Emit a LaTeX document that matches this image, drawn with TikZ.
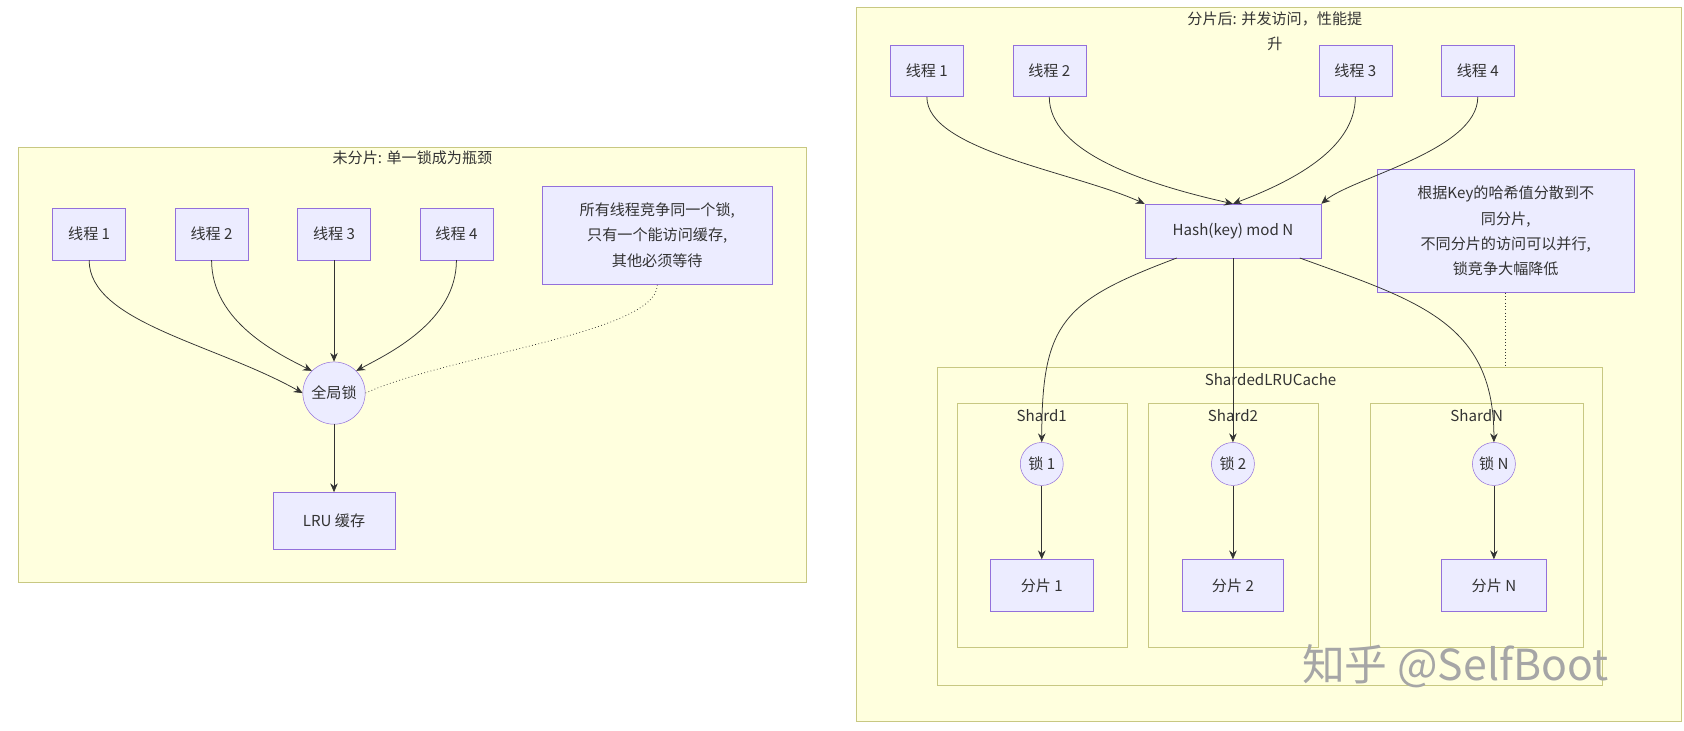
\documentclass[tikz,border=0pt]{standalone}
\usepackage{fontspec}
\setmainfont{Noto Sans CJK SC}
\usetikzlibrary{positioning,arrows.meta}
\definecolor{grpfill}{HTML}{FFFFDE}
\definecolor{grpline}{HTML}{C8C882}
\definecolor{boxfill}{HTML}{ECECFF}
\definecolor{boxline}{HTML}{9370DB}
\definecolor{edge}{HTML}{333333}
\tikzset{
  group/.style={draw=grpline, fill=grpfill, line width=0.6pt},
  grptitle/.style={font=\fontsize{12}{20}\selectfont, text=edge, align=center},
  proc/.style={rectangle, draw=boxline, fill=boxfill, font=\fontsize{12}{20}\selectfont, text=edge, align=center, inner sep=0pt},
  lock/.style={circle, draw=boxline, fill=boxfill, font=\fontsize{12}{14}\selectfont, text=edge, inner sep=0pt},
  flow/.style={draw=edge, line width=0.6pt, -{Stealth[length=7pt,width=6pt]}},
  hint/.style={draw=edge, line width=0.6pt, dotted}
}
\begin{document}
\begin{tikzpicture}[x=0.03cm, y=-0.03cm]
		\useasboundingbox (0,0) rectangle (1568,680);
		% left: one global lock
		\draw[group] (17,137) rectangle (751,542);
		\node[grptitle] (LTITLE) at (384,147) {未分片: 单一锁成为瓶颈};
		\node[proc, minimum width=68*0.03cm, minimum height=48*0.03cm] (LT1) at (83,218) {线程 1};
		\node[proc, minimum width=68*0.03cm, minimum height=48*0.03cm] (LT2) at (197,218) {线程 2};
		\node[proc, minimum width=68*0.03cm, minimum height=48*0.03cm] (LT3) at (311,218) {线程 3};
		\node[proc, minimum width=68*0.03cm, minimum height=48*0.03cm] (LT4) at (425,218) {线程 4};
		\node[proc, minimum width=215*0.03cm, minimum height=92*0.03cm] (LNOTE) at (612,219) {所有线程竞争同一个锁,\\只有一个能访问缓存,\\其他必须等待};
		\node[lock, minimum size=58*0.03cm] (GLOCK) at (311,366) {全局锁};
		\node[proc, minimum width=114*0.03cm, minimum height=53*0.03cm] (LRU) at (311,485) {LRU 缓存};
		\draw[flow] (LT1.south) .. controls (83,300) and (200,320) .. (GLOCK.west);
		\draw[flow] (LT2.south) .. controls (197,300) and (260,330) .. (GLOCK.north west);
		\draw[flow] (LT3) -- (GLOCK);
		\draw[flow] (LT4.south) .. controls (425,300) and (360,330) .. (GLOCK.north east);
		\draw[hint] (LNOTE.south) .. controls (612,310) and (420,330) .. (GLOCK.east);
		\draw[flow] (GLOCK) -- (LRU);
		% right: sharded locks
		\draw[group] (797,7) rectangle (1566,672);
		\node[grptitle] (RTITLE) at (1187,29) {分片后: 并发访问，性能提\\升};
		\node[proc, minimum width=68*0.03cm, minimum height=48*0.03cm] (RT1) at (863,66) {线程 1};
		\node[proc, minimum width=68*0.03cm, minimum height=48*0.03cm] (RT2) at (977,66) {线程 2};
		\node[proc, minimum width=68*0.03cm, minimum height=48*0.03cm] (RT3) at (1262,66) {线程 3};
		\node[proc, minimum width=68*0.03cm, minimum height=48*0.03cm] (RT4) at (1376,66) {线程 4};
		\node[proc, minimum width=164*0.03cm, minimum height=50*0.03cm] (HASH) at (1148,215) {Hash(key) mod N};
		\node[proc, minimum width=240*0.03cm, minimum height=115*0.03cm] (RNOTE) at (1402,215) {根据Key的哈希值分散到不\\同分片,\\不同分片的访问可以并行,\\锁竞争大幅降低};
		\draw[group] (873,342) rectangle (1492,638);
		\node[grptitle] (CTITLE) at (1183,353) {ShardedLRUCache};
		\draw[group] (891,376) rectangle (1050,603);
		\draw[group] (1069,376) rectangle (1228,603);
		\draw[group] (1276,376) rectangle (1474,603);
		\node[grptitle] (S1TITLE) at (970,387) {Shard1};
		\node[grptitle] (S2TITLE) at (1148,387) {Shard2};
		\node[grptitle] (SNTITLE) at (1375,387) {ShardN};
		\node[lock, minimum size=40*0.03cm] (LOCK1) at (970,432) {锁 1};
		\node[lock, minimum size=40*0.03cm] (LOCK2) at (1148,432) {锁 2};
		\node[lock, minimum size=40*0.03cm] (LOCKN) at (1391,432) {锁 N};
		\node[proc, minimum width=96*0.03cm, minimum height=48*0.03cm] (PART1) at (970,545) {分片 1};
		\node[proc, minimum width=94*0.03cm, minimum height=48*0.03cm] (PART2) at (1148,545) {分片 2};
		\node[proc, minimum width=98*0.03cm, minimum height=48*0.03cm] (PARTN) at (1391,545) {分片 N};
		\draw[flow] (RT1.south) .. controls (863,140) and (1000,160) .. (HASH.north west);
		\draw[flow] (RT2.south) .. controls (977,140) and (1060,170) .. (HASH.north);
		\draw[flow] (RT3.south) .. controls (1262,140) and (1200,170) .. (HASH.north);
		\draw[flow] (RT4.south) .. controls (1376,140) and (1260,165) .. (HASH.north east);
		\draw[hint] (RNOTE.south) -- (1402,342);
		\draw[flow] (HASH.south west) ++(30,0) .. controls (990,280) and (970,300) .. (LOCK1.north);
		\draw[flow] (HASH) -- (LOCK2);
		\draw[flow] (HASH.south east) ++(-20,0) .. controls (1320,280) and (1391,300) .. (LOCKN.north);
		\draw[flow] (LOCK1) -- (PART1);
		\draw[flow] (LOCK2) -- (PART2);
		\draw[flow] (LOCKN) -- (PARTN);
		\node[text=gray!70, font=\fontsize{34}{36}\selectfont] (MARK) at (1355,620) {知乎 @SelfBoot};
	\end{tikzpicture}
\end{document}
